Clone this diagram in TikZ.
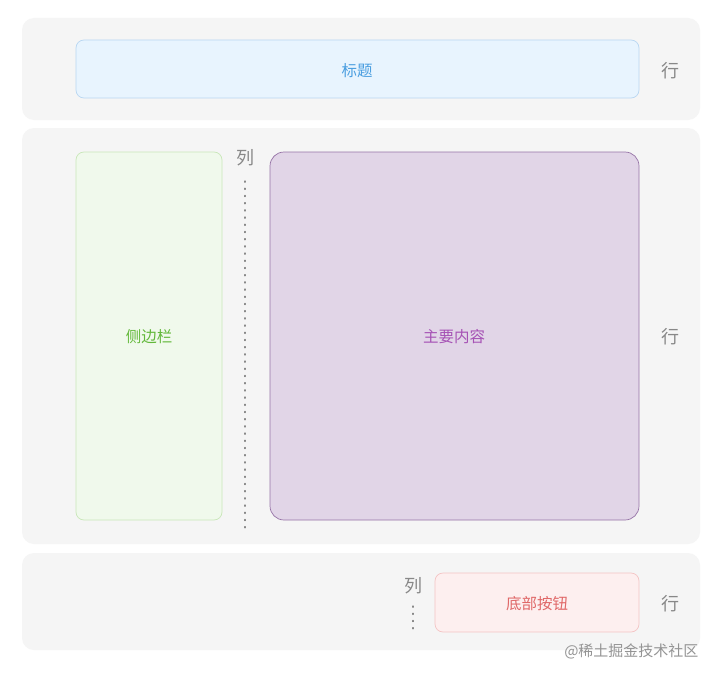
\documentclass[tikz,border=0pt]{standalone}
\usepackage{fontspec}
\setmainfont{Noto Sans CJK SC}
\newfontfamily\cjk{Noto Sans CJK SC}
\definecolor{panelbg}{HTML}{F5F5F5}
\definecolor{bluefill}{HTML}{E8F4FE}
\definecolor{blueline}{HTML}{B9D7F2}
\definecolor{bluetext}{HTML}{4A9EE0}
\definecolor{greenfill}{HTML}{F0F9EC}
\definecolor{greenline}{HTML}{C9E7B9}
\definecolor{greentext}{HTML}{62B83A}
\definecolor{purplefill}{HTML}{E1D5E7}
\definecolor{purpleline}{HTML}{9673A6}
\definecolor{purpletext}{HTML}{A652B5}
\definecolor{redfill}{HTML}{FDEFEF}
\definecolor{redline}{HTML}{F4C4C4}
\definecolor{redtext}{HTML}{E06868}
\definecolor{hint}{HTML}{888888}
\begin{document}
\begin{tikzpicture}[x=1pt,y=-1pt,
  panel/.style={fill=panelbg,draw=none,rounded corners=12pt},
  box/.style={rounded corners=8pt,line width=0.7pt},
  lbl/.style={font=\cjk\fontsize{15.5}{17}\selectfont},
  hintlbl/.style={font=\cjk\fontsize{18}{20}\selectfont,text=hint},
  dotline/.style={draw=hint,line width=1.2pt,dash pattern=on 1.2pt off 6pt,line cap=round}]
\useasboundingbox[fill=white] (0,0) rectangle (720,677);
% panels
\path[panel] (22,18) rectangle (700,120);
\path[panel] (22,128) rectangle (700,544);
\path[panel] (22,553) rectangle (700,650);
% boxes
\draw[box,fill=bluefill,draw=blueline] (76,40) rectangle (639,98);
\node[lbl,text=bluetext] (title) at (357,71) {标题};
\draw[box,fill=greenfill,draw=greenline] (76,152) rectangle (222,520);
\node[lbl,text=greentext] (side) at (149,337) {侧边栏};
\draw[box,rounded corners=14pt,fill=purplefill,draw=purpleline] (270,152) rectangle (639,520);
\node[lbl,text=purpletext] (main) at (454,337) {主要内容};
\draw[box,fill=redfill,draw=redline] (435,573) rectangle (639,632);
\node[lbl,text=redtext] (btn) at (537,604) {底部按钮};
% hints
\node[hintlbl] (row1) at (670,71) {行};
\node[hintlbl] (row2) at (670,337) {行};
\node[hintlbl] (row3) at (670,604) {行};
\node[hintlbl] (col1) at (245,158) {列};
\node[hintlbl] (col2) at (413,586) {列};
\coordinate (c1a) at (245,181);
\coordinate (c1b) at (245,532);
\coordinate (c2a) at (413,606);
\coordinate (c2b) at (413,632);
\draw[dotline] (c1a) -- (c1b);
\draw[dotline] (c2a) -- (c2b);
% watermark
\node[font=\cjk\fontsize{15}{17}\selectfont,text=hint!90,anchor=east] (wm) at (702,651) {@稀土掘金技术社区};
\end{tikzpicture}
\end{document}
